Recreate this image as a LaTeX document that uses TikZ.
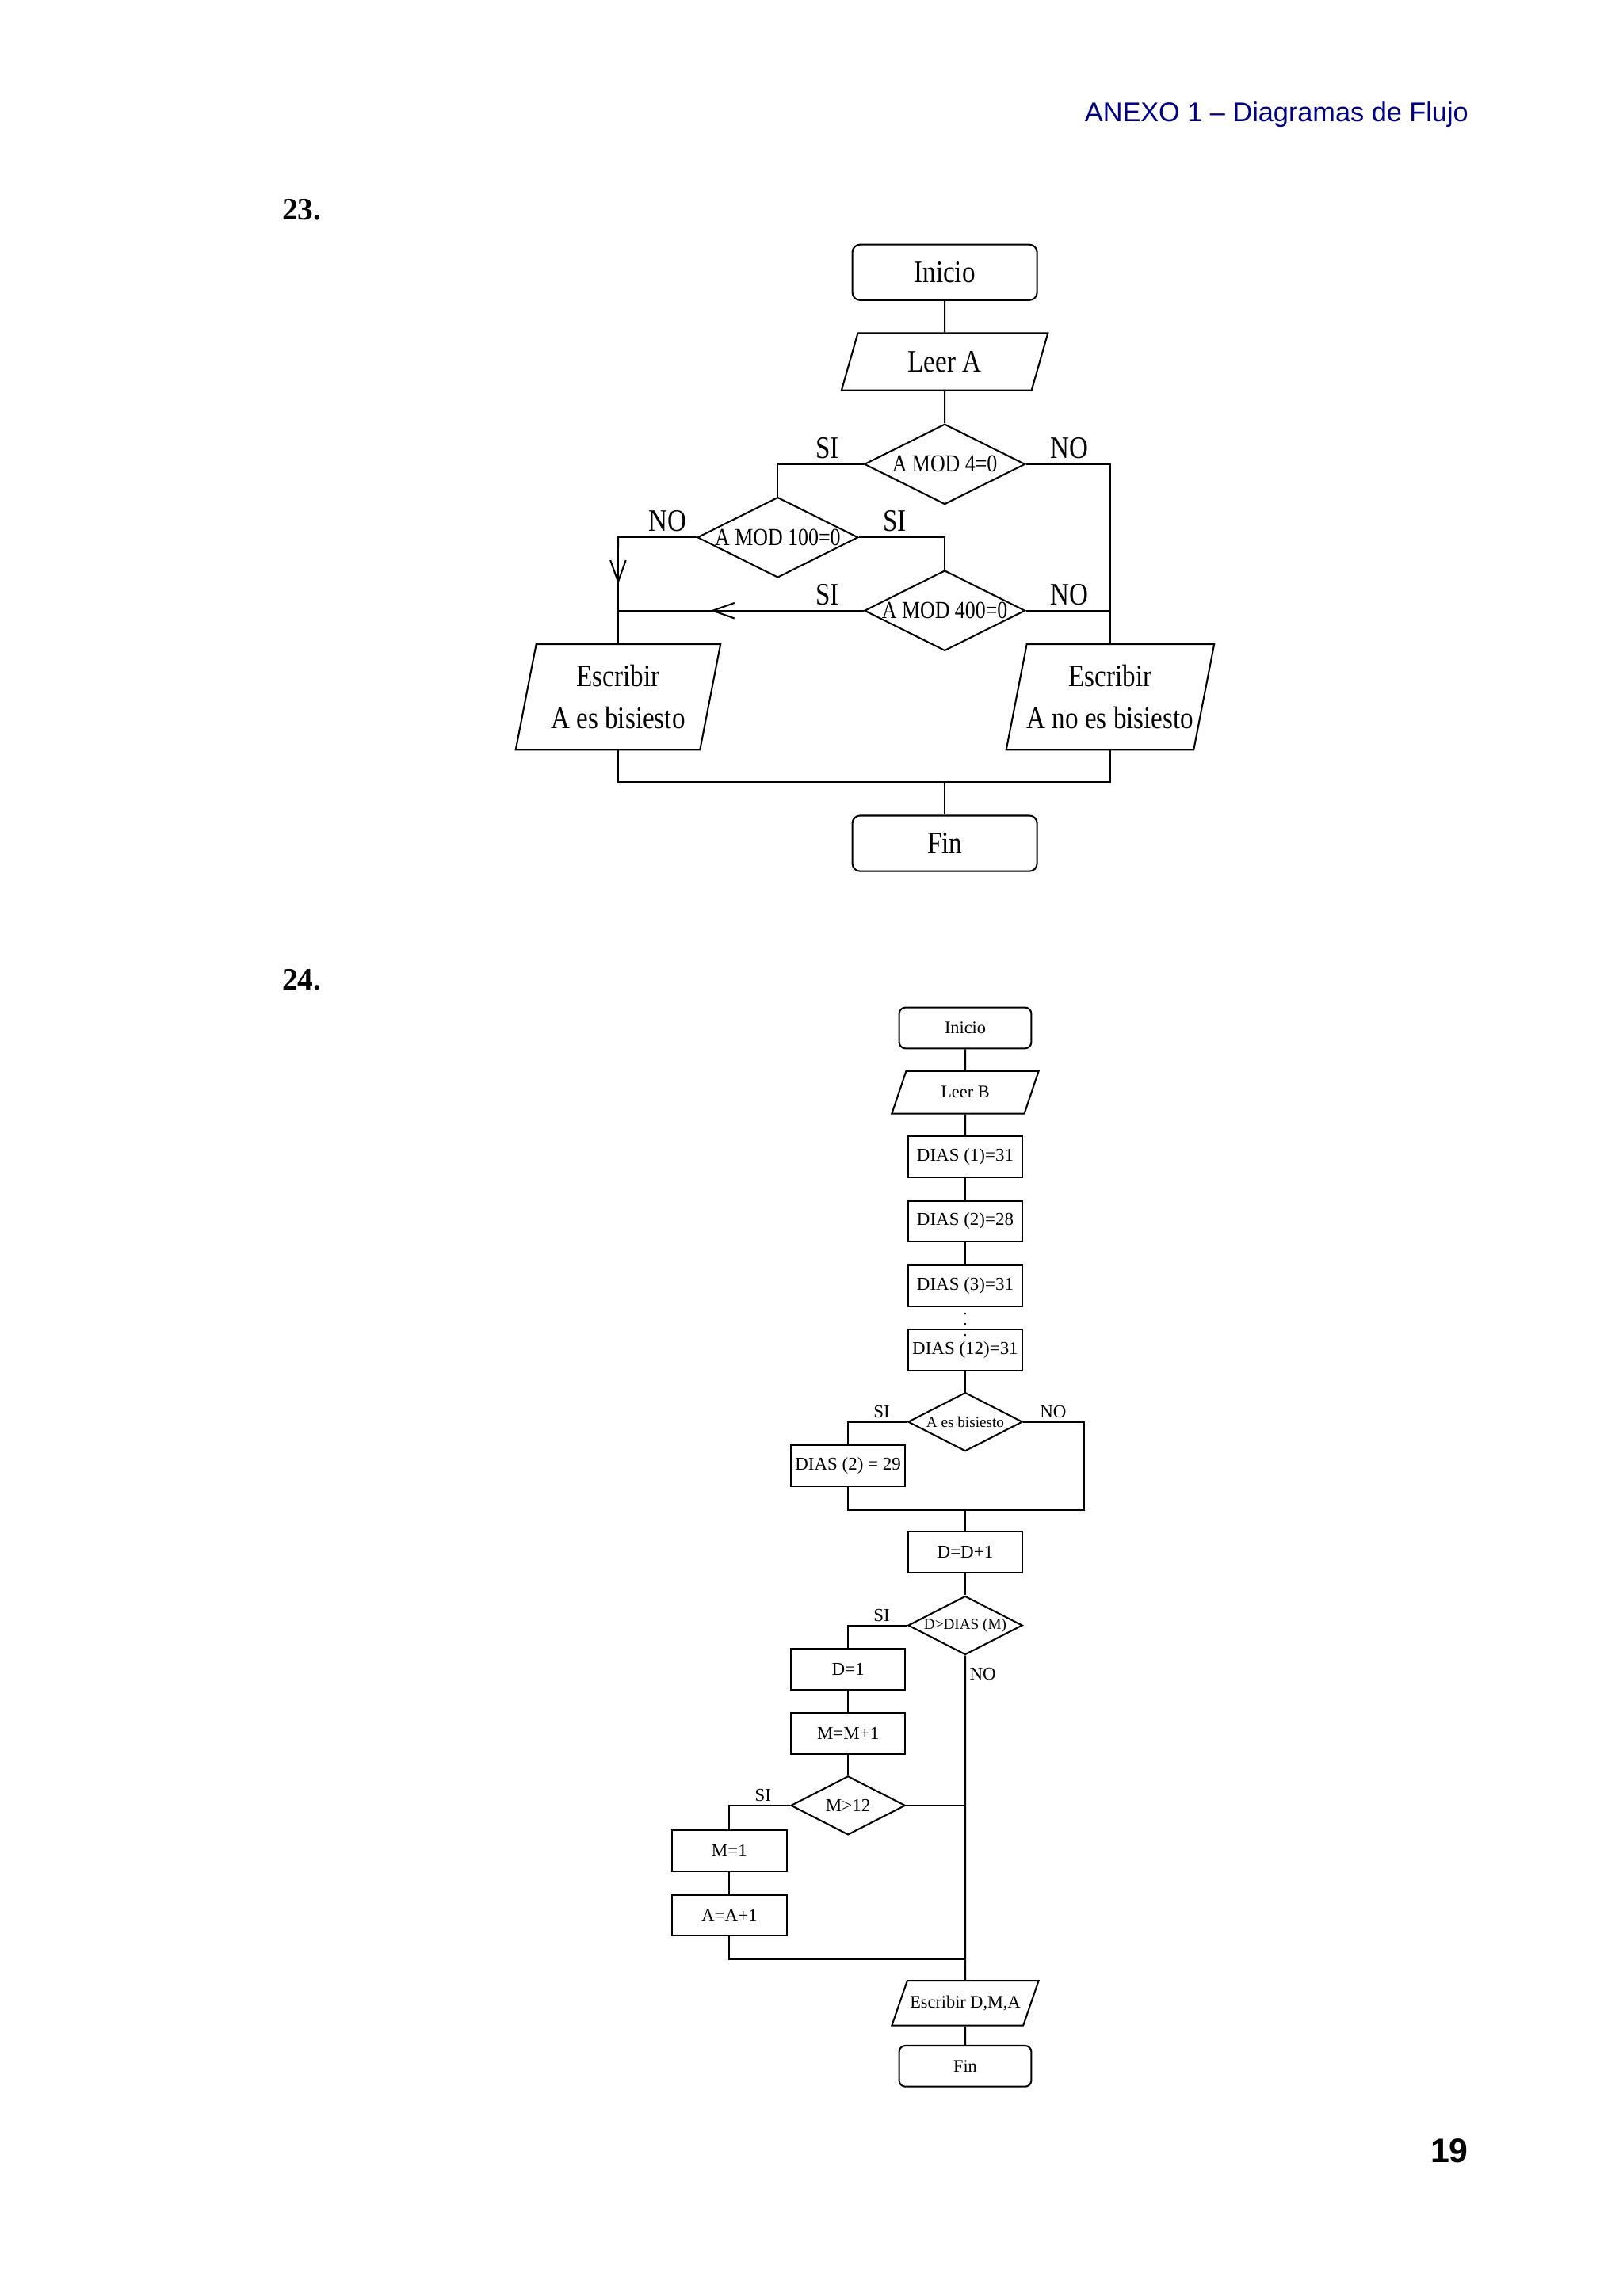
\documentclass[tikz,border=0pt]{standalone}
\usepackage{fontspec}
\setmainfont{Liberation Serif}
\newfontfamily\chartfont[FakeStretch=0.84]{Liberation Serif}
\newfontfamily\headfont{Liberation Sans}
\usetikzlibrary{shapes.geometric,arrows.meta}
\definecolor{headblue}{RGB}{0,0,128}

\begin{document}
\begin{tikzpicture}
		[x=0.18953mm,y=-0.18953mm,line width=0.6pt,
		term/.style={rectangle,draw=black,rounded corners=1mm,minimum width=23.9mm,minimum height=7.2mm,font=\fontsize{11.5}{14}\chartfont},
		io/.style={trapezium,trapezium left angle=74,trapezium right angle=106,trapezium stretches body,draw=black,inner xsep=0pt,inner ysep=6.6pt,minimum width=26.7mm,minimum height=7.4mm,font=\fontsize{11.5}{14}\chartfont},
		outbox/.style={io,trapezium left angle=79,trapezium right angle=101,inner ysep=7.6pt,minimum width=26.5mm,minimum height=13.6mm,align=center,font=\fontsize{11.5}{15.6}\chartfont},
		cond/.style={diamond,aspect=2,draw=black,inner sep=0pt,minimum width=20.8mm,minimum height=10.4mm,font=\fontsize{9}{10}\chartfont},
		lbl/.style={draw=none,fill=none,inner sep=0pt,font=\fontsize{11.5}{14}\chartfont},
		term2/.style={rectangle,draw=black,rounded corners=0.8mm,minimum width=17.1mm,minimum height=5.3mm,font=\fontsize{6.5}{8}\selectfont},
		io2/.style={trapezium,trapezium left angle=71,trapezium right angle=109,trapezium stretches body,draw=black,inner xsep=0pt,inner ysep=5.5pt,minimum width=19mm,minimum height=5.5mm,font=\fontsize{6.5}{8}\selectfont},
		proc/.style={rectangle,draw=black,minimum width=14.8mm,minimum height=5.3mm,inner sep=0pt,font=\fontsize{6.7}{8}\selectfont},
		cond2/.style={diamond,aspect=2,draw=black,inner sep=0pt,minimum width=14.8mm,minimum height=7.6mm,font=\fontsize{5.6}{7}\selectfont},
		lbl2/.style={draw=none,fill=none,inner sep=0pt,font=\fontsize{6.7}{8}\selectfont},
		tip/.style={-{Straight Barb[length=2.8mm,width=2mm]}}
		]
		\useasboundingbox (0,0) rectangle (1108,1568);

		% page header, numbers
		\node[anchor=base east,inner sep=0pt,text=headblue,font=\fontsize{10}{12}\headfont] (head) at (1003,83){ANEXO 1 – Diagramas de Flujo};
		\node[anchor=base east,inner sep=0pt,font=\fontsize{12.5}{14}\headfont\bfseries] (page) at (1003,1477){19};
		\node[font=\fontsize{11.5}{14}\selectfont\bfseries] (n23) at (206,143){23.};
		\node[font=\fontsize{11.5}{14}\selectfont\bfseries] (n24) at (206,669){24.};

		% 23
		\node[term] (ini1) at (645,186){Inicio};
		\node[io] (leer1) at (645,247){Leer A};
		\node[cond] (d1) at (645,317){A MOD 4=0};
		\node[cond] (d2) at (531,367){A MOD 100=0};
		\node[cond] (d3) at (645,417){A MOD 400=0};
		\node[outbox] (esc1) at (422,476){Escribir\\A es bisiesto};
		\node[outbox] (esc2) at (758,476){Escribir\\A no es bisiesto};
		\node[term] (fin1) at (645,576){Fin};

		\node[lbl] (si1) at (565,306){SI};
		\node[lbl] (no1) at (730,306){NO};
		\node[lbl] (no2) at (456,356){NO};
		\node[lbl] (si2) at (611,356){SI};
		\node[lbl] (si3) at (565,406){SI};
		\node[lbl] (no3) at (730,406){NO};

		\coordinate (j1) at (422,417);
		\coordinate (j2) at (758,417);
		\coordinate (j3) at (645,534);
		\coordinate (a1) at (422,399);
		\coordinate (a2) at (485,417);

		\draw (ini1) -- (leer1);
		\draw (leer1) -- (d1);
		\draw (d1.west) -| (d2.north);
		\draw (d1.east) -| (esc2.north);
		\draw (d2.west) -| (esc1.north);
		\draw (d2.east) -| (d3.north);
		\draw (d3.west) -- (j1);
		\draw (d3.east) -- (j2);
		\draw (esc1.south) |- (j3) -| (esc2.south);
		\draw (j3) -- (fin1);
		\draw[tip] (d2.west -| esc1.north) -- (a1);
		\draw[tip] (d3.west) -- (a2);

		% 24
		\node[term2] (ini2) at (659,702){Inicio};
		\node[io2] (leer2) at (659,746){Leer B};
		\node[proc] (dias1) at (659,790){DIAS (1)=31};
		\node[proc] (dias2) at (659,834){DIAS (2)=28};
		\node[proc] (dias3) at (659,878){DIAS (3)=31};
		\node[inner sep=0pt,font=\fontsize{6}{6}\selectfont] (dots) at (659,899){$\vdots$};
		\node[proc] (dias12) at (659,922){DIAS (12)=31};
		\node[cond2] (d4) at (659,971){A es bisiesto};
		\node[proc] (dias29) at (579,1001){DIAS (2) = 29};
		\node[proc] (dd) at (659,1060){D=D+1};
		\node[cond2] (d5) at (659,1110){D>DIAS (M)};
		\node[proc] (dia1) at (579,1140){D=1};
		\node[proc] (mm) at (579,1184){M=M+1};
		\node[cond2,font=\fontsize{6.7}{8}\selectfont] (d6) at (579,1233){M>12};
		\node[proc] (mes1) at (498,1264){M=1};
		\node[proc] (aa) at (498,1308){A=A+1};
		\node[io2] (esc3) at (659,1368){Escribir D,M,A};
		\node[term2] (fin2) at (659,1411){Fin};

		\node[lbl2] (si4) at (602,964){SI};
		\node[lbl2] (no4) at (719,964){NO};
		\node[lbl2] (si5) at (602,1103){SI};
		\node[lbl2] (no5) at (671,1143){NO};
		\node[lbl2] (si6) at (521,1226){SI};

		\coordinate (j4) at (659,1031);
		\coordinate (c4) at (740,1031);
		\coordinate (j5) at (659,1338);
		\coordinate (j6) at (659,1233);

		\draw (ini2) -- (leer2);
		\draw (leer2) -- (dias1);
		\draw (dias1) -- (dias2);
		\draw (dias2) -- (dias3);
		\draw (dias12) -- (d4);
		\draw (d4.west) -| (dias29.north);
		\draw (dias29.south) |- (j4);
		\draw (d4.east) -| (c4) -- (j4);
		\draw (j4) -- (dd);
		\draw (dd) -- (d5);
		\draw (d5.west) -| (dia1.north);
		\draw (dia1) -- (mm);
		\draw (mm) -- (d6);
		\draw (d6.west) -| (mes1.north);
		\draw (mes1) -- (aa);
		\draw (aa.south) |- (j5);
		\draw (d6.east) -- (j6);
		\draw (d5.south) -- (esc3.north);
		\draw (esc3) -- (fin2);
	\end{tikzpicture}
\end{document}
